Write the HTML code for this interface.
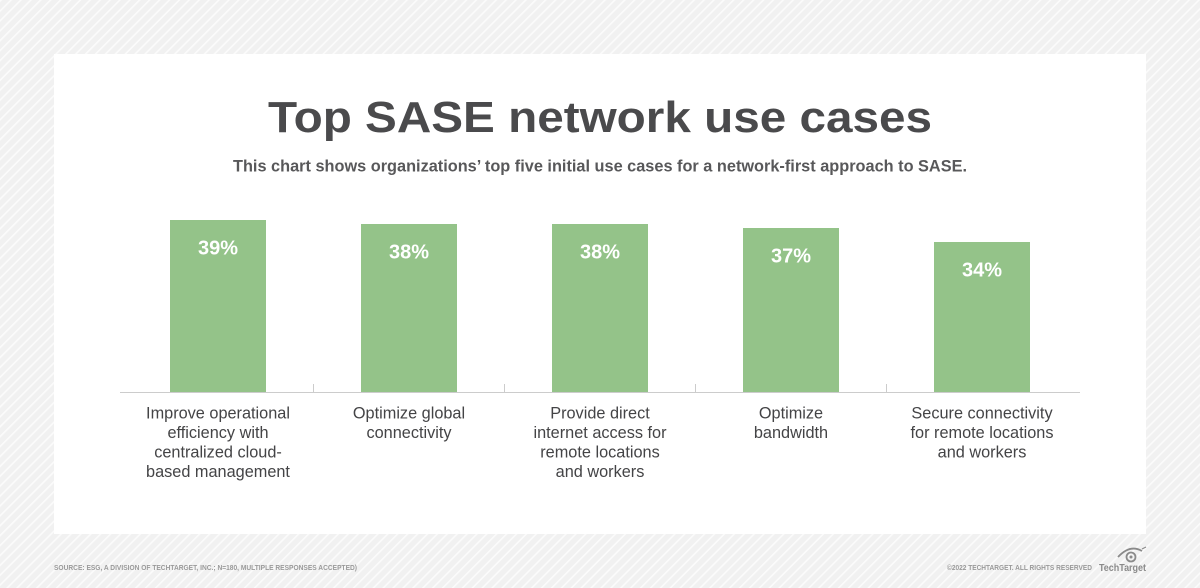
<!DOCTYPE html>
<html>
<head>
<meta charset="utf-8">
<style>
html,body{margin:0;padding:0;background:#f2f2f2;}
svg{display:block;}
</style>
</head>
<body>
<svg width="1200" height="588" viewBox="0 0 1200 588" xmlns="http://www.w3.org/2000/svg">
  <defs>
    <pattern id="stripes" width="7" height="7" patternUnits="userSpaceOnUse" patternTransform="rotate(45)">
      <rect width="7" height="7" fill="#f1f1f1"/>
      <rect x="0" y="0" width="1.6" height="7" fill="#fbfbfb"/>
    </pattern>
  </defs>
  <rect x="0" y="0" width="1200" height="588" fill="url(#stripes)"/>
  <rect x="54" y="54" width="1092" height="480" fill="#ffffff"/>

  <text x="600" y="132" text-anchor="middle" font-family="Liberation Sans, sans-serif" font-weight="bold" font-size="44" fill="#4a4a4c" textLength="664" lengthAdjust="spacingAndGlyphs">Top SASE network use cases</text>
  <text x="233" y="171.5" font-family="Liberation Sans, sans-serif" font-weight="bold" font-size="17" fill="#58585a" textLength="734" lengthAdjust="spacingAndGlyphs">This chart shows organizations’ top five initial use cases for a network-first approach to SASE.</text>

  <!-- bars -->
  <g fill="#94c389">
    <rect x="170" y="220" width="96" height="172"/>
    <rect x="361" y="224" width="96" height="168"/>
    <rect x="552" y="224" width="96" height="168"/>
    <rect x="743" y="228" width="96" height="164"/>
    <rect x="934" y="242" width="96" height="150"/>
  </g>
  <g font-family="Liberation Sans, sans-serif" font-weight="bold" font-size="20" fill="#ffffff" text-anchor="middle">
    <text x="218" y="254.5">39%</text>
    <text x="409" y="258.5">38%</text>
    <text x="600" y="258.5">38%</text>
    <text x="791" y="262.5">37%</text>
    <text x="982" y="276.5">34%</text>
  </g>

  <!-- axis -->
  <line x1="120" y1="392.5" x2="1080" y2="392.5" stroke="#cccccc" stroke-width="1"/>
  <g stroke="#cccccc" stroke-width="1">
    <line x1="313.5" y1="384" x2="313.5" y2="392"/>
    <line x1="504.5" y1="384" x2="504.5" y2="392"/>
    <line x1="695.5" y1="384" x2="695.5" y2="392"/>
    <line x1="886.5" y1="384" x2="886.5" y2="392"/>
  </g>

  <!-- category labels -->
  <g font-family="Liberation Sans, sans-serif" font-size="16.3" fill="#444446" text-anchor="middle">
    <text x="218" y="418.5">Improve operational</text>
    <text x="218" y="438">efficiency with</text>
    <text x="218" y="457.5">centralized cloud-</text>
    <text x="218" y="477">based management</text>

    <text x="409" y="418.5">Optimize global</text>
    <text x="409" y="438">connectivity</text>

    <text x="600" y="418.5">Provide direct</text>
    <text x="600" y="438">internet access for</text>
    <text x="600" y="457.5">remote locations</text>
    <text x="600" y="477">and workers</text>

    <text x="791" y="418.5">Optimize</text>
    <text x="791" y="438">bandwidth</text>

    <text x="982" y="418.5">Secure connectivity</text>
    <text x="982" y="438">for remote locations</text>
    <text x="982" y="457.5">and workers</text>
  </g>

  <!-- footer -->
  <text x="54" y="570" font-family="Liberation Sans, sans-serif" font-weight="bold" font-size="7" fill="#9a9a9a" textLength="303" lengthAdjust="spacingAndGlyphs">SOURCE: ESG, A DIVISION OF TECHTARGET, INC.; N=180, MULTIPLE RESPONSES ACCEPTED)</text>
  <text x="947" y="570" font-family="Liberation Sans, sans-serif" font-weight="bold" font-size="7" fill="#9a9a9a" textLength="145" lengthAdjust="spacingAndGlyphs">©2022 TECHTARGET. ALL RIGHTS RESERVED</text>

  <!-- TechTarget logo -->
  <g fill="none" stroke="#8a8a8a">
    <path d="M1118 557 Q1130 544 1142 551" stroke-width="1.8"/>
    <circle cx="1131" cy="557" r="4.5" stroke-width="1.8"/>
    <circle cx="1131" cy="557" r="1.5" fill="#8a8a8a" stroke="none"/>
    <line x1="1142" y1="549" x2="1146" y2="547" stroke-width="1.2"/>
  </g>
  <text x="1099" y="571" font-family="Liberation Sans, sans-serif" font-weight="bold" font-size="10" fill="#8a8a8a" textLength="47" lengthAdjust="spacingAndGlyphs">TechTarget</text>
</svg>
</body>
</html>
